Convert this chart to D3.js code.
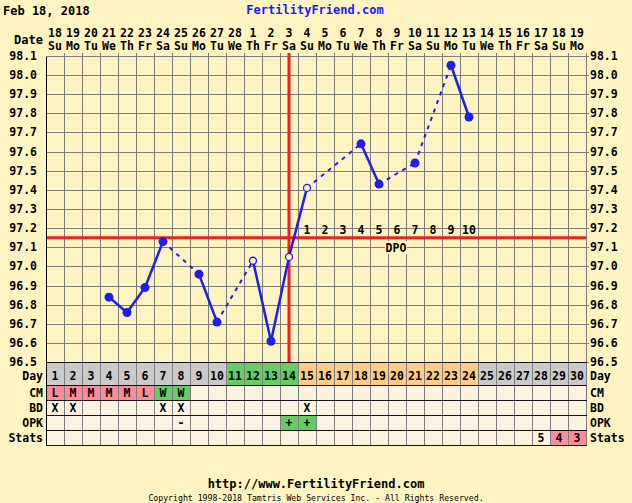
<!DOCTYPE html>
<html><head><meta charset="utf-8">
<script src="https://cdn.jsdelivr.net/npm/d3@7"></script>
<style>
body{margin:0;background:#fef4c2}
svg{display:block}
text{font-family:"DejaVu Sans Mono","Liberation Mono",monospace;font-weight:bold}
text.thin{font-weight:normal}
</style>
</head><body>
<svg id="c" width="632" height="503"></svg>
<script>
// ---------- DATA ----------
const chartDate = "Feb 18, 2018";
const siteName = "FertilityFriend.com";
const dateNums = ["18","19","20","21","22","23","24","25","26","27","28","1","2","3","4","5","6","7","8","9","10","11","12","13","14","15","16","17","18","19"];
const weekdays = ["Su","Mo","Tu","We","Th","Fr","Sa","Su","Mo","Tu","We","Th","Fr","Sa","Su","Mo","Tu","We","Th","Fr","Sa","Su","Mo","Tu","We","Th","Fr","Sa","Su","Mo"];
const cycleDays = [1,2,3,4,5,6,7,8,9,10,11,12,13,14,15,16,17,18,19,20,21,22,23,24,25,26,27,28,29,30];
const temps = [null,null,null,96.84,96.76,96.89,97.13,null,96.96,96.71,null,97.03,96.61,97.05,97.41,null,null,97.64,97.43,null,97.54,null,98.05,97.78,null,null,null,null,null,null];
const openMarkerDays = [12,14,15];
const tempTicks = [96.5,96.6,96.7,96.8,96.9,97.0,97.1,97.2,97.3,97.4,97.5,97.6,97.7,97.8,97.9,98.0,98.1];
const tempTickLabels = ["96.5","96.6","96.7","96.8","96.9","97.0","97.1","97.2","97.3","97.4","97.5","97.6","97.7","97.8","97.9","98.0","98.1"];
const coverline = 97.15;
const ovulationDay = 14;
const fertileDays = [11,12,13,14];
const dpoDays = [15,16,17,18,19,20,21,22,23,24];
const dpoLabels = ["1","2","3","4","5","6","7","8","9","10"];
const cmValues = ["L","M","M","M","M","L","W","W","","","","","","","","","","","","","","","","","","","","","",""];
const bdValues = ["X","X","","","","","X","X","","","","","","","X","","","","","","","","","","","","","","",""];
const opkValues = ["","","","","","","","-","","","","","","+","+","","","","","","","","","","","","","","",""];
const statsValues = ["","","","","","","","","","","","","","","","","","","","","","","","","","","","5","4","3"];
const rowLabels = ["Day","CM","BD","OPK","Stats"];
const footerUrl = "http://www.FertilityFriend.com";
const copyright = "Copyright 1998-2018 Tamtris Web Services Inc. - All Rights Reserved.";

// ---------- STYLE ----------
const C = {bg:"#fef4c2", grid:"#7c7c7c", cell:"#fbf2df", gray:"#cacaca", green:"#66cc66",
  orange:"#ffcc88", pink:"#ff8a9c", blue:"#1e1ef0", red:"#ee2020", link:"#1a1aff"};

const svg = d3.select("#c");
svg.append("rect").attr("width",632).attr("height",503).attr("fill",C.bg);

const x0 = 46, colW = 18, nCols = 30;
const x = d3.scaleLinear().domain([0.5, 30.5]).range([x0, x0 + colW*nCols]);
const y = d3.scaleLinear().domain([96.5, 98.1]).range([362.3, 55.7]);
const px = v => Math.round(v) + 0.5;

// header
svg.append("text").attr("x",3).attr("y",15).attr("font-size",12).text(chartDate);
svg.append("text").attr("x",315).attr("y",14).attr("font-size",12).attr("fill",C.link)
  .attr("text-anchor","middle").text(siteName);

// date rows
svg.append("text").attr("x",43).attr("y",44).attr("font-size",12).attr("text-anchor","end").text("Date");
svg.append("g").selectAll("text").data(dateNums).join("text")
  .attr("x",(d,i)=>x(cycleDays[i])).attr("y",37).attr("font-size",11.5)
  .attr("text-anchor","middle").text(d=>d);
svg.append("g").selectAll("text").data(weekdays).join("text")
  .attr("x",(d,i)=>x(cycleDays[i])).attr("y",50).attr("font-size",11.5)
  .attr("text-anchor","middle").text(d=>d);

// grid
const grid = svg.append("g").attr("shape-rendering","crispEdges");
const colEdges = d3.range(0, nCols+1).map(k => x(k + 0.5));
grid.selectAll("line.v").data(colEdges.slice(1,-1)).join("line")
  .attr("x1",d=>px(d)).attr("x2",d=>px(d)).attr("y1",53).attr("y2",362)
  .attr("stroke",C.grid);
grid.selectAll("line.h").data(tempTicks).join("line")
  .attr("x1",x0).attr("x2",x(30.5)+3).attr("y1",d=>px(y(d))).attr("y2",d=>px(y(d)))
  .attr("stroke",C.grid);
grid.append("line").attr("x1",px(x(30.5))).attr("x2",px(x(30.5))).attr("y1",53).attr("y2",445).attr("stroke",C.grid);
grid.append("line").attr("x1",px(x0)).attr("x2",px(x0)).attr("y1",px(y(98.1))).attr("y2",445).attr("stroke","#000");

// y tick labels
svg.append("g").selectAll("text").data(tempTicks).join("text")
  .attr("x",37).attr("y",d=>y(d)+4).attr("font-size",11.5).attr("text-anchor","end")
  .text((d,i)=>tempTickLabels[i]);
svg.append("g").selectAll("text").data(tempTicks).join("text")
  .attr("x",590).attr("y",d=>y(d)+4).attr("font-size",11.5)
  .text((d,i)=>tempTickLabels[i]);

// DPO labels
svg.append("g").selectAll("text").data(dpoLabels).join("text")
  .attr("x",(d,i)=>x(dpoDays[i])).attr("y",y(coverline)-4).attr("font-size",11.5)
  .attr("text-anchor","middle").text(d=>d);
svg.append("rect").attr("x",385).attr("y",241).attr("width",22).attr("height",13).attr("fill",C.bg);
svg.append("text").attr("x",396).attr("y",251.5).attr("font-size",11.5).attr("text-anchor","middle").text("DPO");

// coverline & ovulation line
svg.append("line").attr("x1",x0+1).attr("x2",x(30.5)).attr("y1",y(coverline)).attr("y2",y(coverline))
  .attr("stroke",C.red).attr("stroke-width",3);
svg.append("line").attr("x1",x(ovulationDay)).attr("x2",x(ovulationDay)).attr("y1",53).attr("y2",362)
  .attr("stroke",C.red).attr("stroke-width",3);

// temperature line segments
const pts = temps.map((t,i)=>({day:cycleDays[i], t})).filter(d=>d.t!==null);
const segs = d3.pairs(pts);
svg.append("g").selectAll("line").data(segs).join("line")
  .attr("x1",d=>x(d[0].day)).attr("y1",d=>y(d[0].t))
  .attr("x2",d=>x(d[1].day)).attr("y2",d=>y(d[1].t))
  .attr("stroke",C.blue)
  .attr("stroke-width",d=>d[1].day-d[0].day===1?2.5:2)
  .attr("stroke-dasharray",d=>d[1].day-d[0].day===1?null:"4,5");
svg.append("g").selectAll("circle").data(pts).join("circle")
  .attr("cx",d=>x(d.day)).attr("cy",d=>y(d.t))
  .attr("r",d=>openMarkerDays.includes(d.day)?3.5:4.5)
  .attr("fill",d=>openMarkerDays.includes(d.day)?C.bg:C.blue)
  .attr("stroke",C.blue).attr("stroke-width",d=>openMarkerDays.includes(d.day)?1.3:0);

// table
const rowTops = [362, 385, 400, 415, 430, 445];
const rowBase = [380, 397, 412, 427, 442];
const tbl = svg.append("g").attr("shape-rendering","crispEdges");
const dayFill = d => fertileDays.includes(d) ? C.green : dpoDays.includes(d) ? C.orange : C.gray;
const cmFill = v => v==="W" ? C.green : (v==="L"||v==="M") ? C.pink : C.cell;
const opkFill = v => v==="+" ? C.green : C.cell;
const statFill = (v,i) => (i>=28 && v!=="") ? C.pink : C.cell;
const rowsData = [
  {vals: cycleDays.map(String), fill:(v,i)=>dayFill(cycleDays[i])},
  {vals: cmValues, fill:(v)=>cmFill(v)},
  {vals: bdValues, fill:()=>C.cell},
  {vals: opkValues, fill:(v)=>opkFill(v)},
  {vals: statsValues, fill:(v,i)=>statFill(v,i)}
];
rowsData.forEach((r,ri)=>{
  const g = tbl.append("g");
  g.selectAll("rect").data(r.vals).join("rect")
    .attr("x",(d,i)=>x(cycleDays[i])-colW/2).attr("y",rowTops[ri])
    .attr("width",colW).attr("height",rowTops[ri+1]-rowTops[ri])
    .attr("fill",(d,i)=>r.fill(d,i));
  svg.append("g").selectAll("text").data(r.vals).join("text")
    .attr("x",(d,i)=>x(cycleDays[i])).attr("y",rowBase[ri])
    .attr("font-size",11.5).attr("text-anchor","middle").text(d=>d);
  svg.append("text").attr("x",43).attr("y",rowBase[ri])
    .attr("font-size",11.5).attr("text-anchor","end").text(rowLabels[ri]);
  svg.append("text").attr("x",590).attr("y",rowBase[ri])
    .attr("font-size",11.5).text(rowLabels[ri]);
});
tbl.selectAll("line.tv").data(colEdges).join("line")
  .attr("x1",d=>px(d)).attr("x2",d=>px(d)).attr("y1",362).attr("y2",445)
  .attr("stroke",(d,i)=>i===0?"#000":C.grid);
tbl.selectAll("line.th").data(rowTops).join("line")
  .attr("x1",x0).attr("x2",x(30.5)+1).attr("y1",d=>d+0.5).attr("y2",d=>d+0.5)
  .attr("stroke","#111").attr("stroke-width",1.6);

// footer
svg.append("text").attr("x",316).attr("y",488).attr("font-size",12).attr("text-anchor","middle").text(footerUrl);
svg.append("text").attr("class","thin").attr("x",316).attr("y",501).attr("font-size",8.2)
  .attr("text-anchor","middle").text(copyright);
</script>
</body></html>
